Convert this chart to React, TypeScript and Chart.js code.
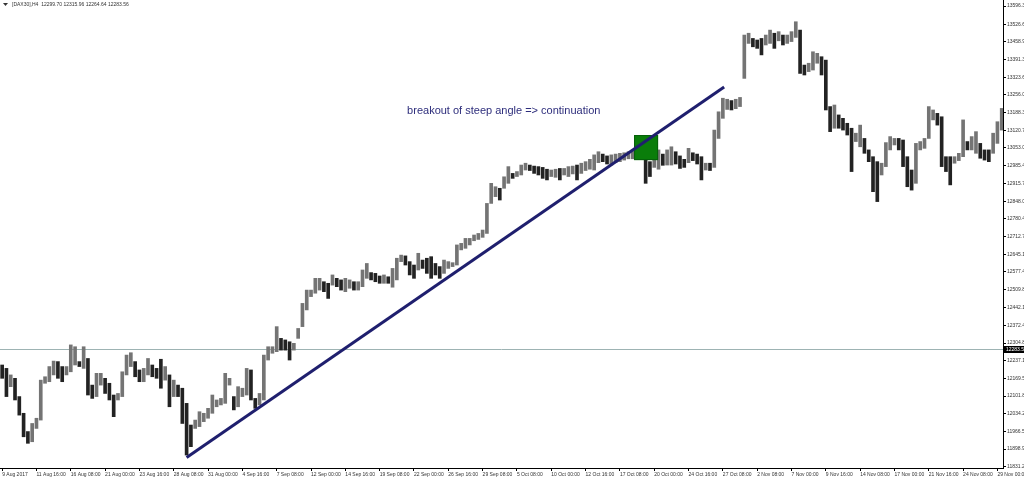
import React, { useEffect, useRef } from 'react';
import { Chart, registerables } from 'chart.js';

Chart.register(...registerables);

// one slot = two H4 candles, a date label every 8 slots
const xTickLabels = [
  '9 Aug 2017', '11 Aug 16:00', '16 Aug 08:00', '21 Aug 00:00', '23 Aug 16:00',
  '28 Aug 08:00', '31 Aug 00:00', '4 Sep 16:00', '7 Sep 08:00', '12 Sep 00:00',
  '14 Sep 16:00', '19 Sep 08:00', '22 Sep 00:00', '26 Sep 16:00', '29 Sep 08:00',
  '5 Oct 08:00', '10 Oct 00:00', '12 Oct 16:00', '17 Oct 08:00', '20 Oct 00:00',
  '24 Oct 16:00', '27 Oct 08:00', '2 Nov 08:00', '7 Nov 00:00', '9 Nov 16:00',
  '14 Nov 08:00', '17 Nov 00:00', '21 Nov 16:00', '24 Nov 08:00', '29 Nov 00:00',
];

const yTickLabels = [
  '13596.3', '13526.6', '13458.9', '13391.3', '13323.6', '13256.0', '13188.3',
  '13120.7', '13053.0', '12985.4', '12915.7', '12848.0', '12780.4', '12712.7',
  '12645.1', '12577.4', '12509.8', '12442.1', '12372.4', '12304.8', '12237.1',
  '12169.5', '12101.8', '12034.2', '11966.5', '11898.9', '11831.2',
];

const barHighs = [
  12221, 12208, 12183, 12170, 12100, 12036, 11966, 11997, 12017, 12163,
  12176, 12215, 12236, 12234, 12215, 12215, 12298, 12291, 12234, 12291,
  12246, 12144, 12189, 12189, 12170, 12151, 12106, 12112, 12195, 12259,
  12268, 12234, 12202, 12208, 12246, 12221, 12208, 12243, 12215, 12183,
  12163, 12144, 12132, 12074, 11991, 12010, 12042, 12036, 12055, 12106,
  12087, 12093, 12189, 12170, 12100, 12138, 12132, 12208, 12202, 12093,
  12112, 12259, 12291, 12291, 12368, 12323, 12317, 12310, 12304, 12361,
  12457, 12508, 12508, 12553, 12553, 12540, 12534, 12566, 12553, 12547,
  12553, 12547, 12540, 12540, 12585, 12610, 12575, 12572, 12562, 12566,
  12559, 12591, 12630, 12642, 12639, 12617, 12604, 12649, 12623, 12630,
  12636, 12610, 12598, 12623, 12617, 12613, 12681, 12687, 12706, 12706,
  12719, 12725, 12738, 12840, 12917, 12904, 12898, 12942, 12981, 12955,
  12962, 12987, 12994, 12987, 12983, 12981, 12978, 12971, 12968, 12971,
  12974, 12974, 12981, 12983, 12987, 12994, 13000, 13009, 13026, 13038,
  13029, 13022, 13026, 13029, 13032, 13034, 13038, 13042, 13064, 13077,
  13038, 13000, 13013, 13045, 13029, 13045, 13057, 13038, 13022, 13009,
  13051, 13034, 13029, 13019, 12994, 12994, 13121, 13191, 13243, 13239,
  13234, 13239, 13246, 13485, 13492, 13472, 13466, 13472, 13485, 13504,
  13492, 13498, 13485, 13485, 13498, 13536, 13504, 13370, 13377, 13421,
  13415, 13402, 13389, 13211, 13217, 13179, 13166, 13147, 13128, 13109,
  13140, 13089, 13045, 13019, 13000, 12994, 13073, 13096, 13089, 13089,
  13083, 13019, 12968, 13070, 13077, 13089, 13211, 13198, 13185, 13172,
  13019, 13019, 13019, 13032, 13160, 13077, 13096, 13115, 13070, 13045,
  13045, 13109, 13153, 13204,
];

const barLows = [
  12170, 12100, 12138, 12087, 12029, 11946, 11921, 11927, 11978, 12010,
  12151, 12157, 12183, 12170, 12157, 12183, 12195, 12221, 12215, 12208,
  12106, 12093, 12100, 12144, 12112, 12087, 12023, 12087, 12100, 12183,
  12215, 12176, 12157, 12157, 12183, 12176, 12170, 12132, 12163, 12061,
  12100, 12100, 11997, 11876, 11908, 11978, 11985, 12004, 12017, 12036,
  12061, 12068, 12074, 12144, 12049, 12061, 12100, 12106, 12087, 12055,
  12068, 12087, 12240, 12266, 12272, 12278, 12278, 12240, 12278, 12323,
  12368, 12432, 12483, 12496, 12508, 12502, 12476, 12527, 12521, 12508,
  12502, 12515, 12508, 12508, 12521, 12553, 12547, 12540, 12534, 12534,
  12534, 12519, 12547, 12617, 12604, 12566, 12553, 12585, 12591, 12572,
  12553, 12566, 12553, 12572, 12591, 12598, 12604, 12662, 12668, 12681,
  12697, 12702, 12710, 12725, 12840, 12866, 12853, 12898, 12917, 12936,
  12943, 12949, 12968, 12966, 12955, 12949, 12936, 12930, 12943, 12940,
  12930, 12949, 12943, 12953, 12930, 12955, 12966, 12971, 12968, 12996,
  13000, 12991, 12987, 12996, 13000, 13006, 13011, 13011, 13013, 13026,
  12917, 12943, 12978, 12971, 12986, 12987, 12987, 12991, 12974, 12978,
  12996, 13004, 12991, 12930, 12968, 12966, 12978, 13089, 13166, 13200,
  13198, 13203, 13211, 13319, 13453, 13440, 13434, 13409, 13447, 13453,
  13434, 13463, 13447, 13453, 13460, 13476, 13338, 13332, 13345, 13351,
  13377, 13332, 13198, 13115, 13128, 13128, 13121, 13102, 12962, 13077,
  13057, 13032, 13000, 12885, 12847, 12949, 12981, 13045, 13064, 13045,
  12981, 12904, 12891, 12917, 13045, 13051, 13089, 13160, 13140, 12981,
  12962, 12911, 12994, 13004, 13019, 13045, 13045, 13032, 13013, 13006,
  13000, 13032, 13070, 13121,
];

// hand-drawn trend line, breakout zone and note (slot index / price)
const trendX = [43.0, 168.3];
const trendY = [11867, 13286];
const zoneX = [147.3, 152.9];
const zoneY = [13006, 13102];
const noteAt = [94.4, 13194];
const noteText = 'breakout of steep angle => continuation';

const levelPrice = 12283.56;
const levelLabel = '12283.5';
const headerText = '[DAX30],H4  12299.70 12315.96 12264.64 12283.56';

const FONT = "'Liberation Sans', Arial, sans-serif";

const overlayPlugin = {
  id: 'mt4Overlay',
  beforeDatasetsDraw(chart: any) {
    const { ctx, chartArea, scales } = chart;
    const py = Math.round(scales.y.getPixelForValue(levelPrice)) + 0.5;
    ctx.save();
    ctx.strokeStyle = '#9db3b3';
    ctx.lineWidth = 1;
    ctx.beginPath();
    ctx.moveTo(chartArea.left, py);
    ctx.lineTo(chartArea.right, py);
    ctx.stroke();
    ctx.restore();
  },
  beforeDatasetDraw(chart: any, args: any) {
    if (args.meta.type !== 'line') return;
    const { ctx, scales } = chart;
    const x0 = scales.x.getPixelForValue(zoneX[0]);
    const x1 = scales.x.getPixelForValue(zoneX[1]);
    const y0 = scales.y.getPixelForValue(zoneY[1]);
    const y1 = scales.y.getPixelForValue(zoneY[0]);
    ctx.save();
    ctx.fillStyle = '#0a7d0a';
    ctx.fillRect(x0, y0, x1 - x0, y1 - y0);
    ctx.strokeStyle = '#06600a';
    ctx.strokeRect(x0 + 0.5, y0 + 0.5, x1 - x0 - 1, y1 - y0 - 1);
    ctx.restore();
  },
  afterDraw(chart: any) {
    const { ctx, chartArea, scales } = chart;
    ctx.save();
    // annotation
    ctx.fillStyle = '#2e2e7c';
    ctx.font = `11px ${FONT}`;
    ctx.textBaseline = 'middle';
    ctx.textAlign = 'left';
    ctx.fillText(noteText, scales.x.getPixelForValue(noteAt[0]), scales.y.getPixelForValue(noteAt[1]));

    // current level marker on the price axis
    const py = Math.round(scales.y.getPixelForValue(levelPrice));
    ctx.fillStyle = '#000';
    ctx.fillRect(chartArea.right + 1, py - 3, 24, 7);
    ctx.fillStyle = '#fff';
    ctx.font = `5px ${FONT}`;
    ctx.fillText(levelLabel, chartArea.right + 3, py + 0.5);

    // symbol header
    ctx.fillStyle = '#333';
    ctx.beginPath();
    ctx.moveTo(3, 3);
    ctx.lineTo(8, 3);
    ctx.lineTo(5.5, 6);
    ctx.closePath();
    ctx.fill();
    ctx.fillText(headerText, 12, 4.5);
    ctx.restore();
  },
};

const DaxChart: React.FC = () => {
  const canvasRef = useRef<HTMLCanvasElement | null>(null);
  const chartRef = useRef<Chart | null>(null);

  useEffect(() => {
    document.body.style.margin = '0';
    if (!canvasRef.current) return;
    if (chartRef.current) chartRef.current.destroy();

    const bars = barHighs.map((h, i) => ({ x: i, y: [barLows[i], h] }));
    const barColors = barHighs.map((h, i) => {
      if (i === 0) return '#222';
      const mid = (h + barLows[i]) / 2;
      const prev = (barHighs[i - 1] + barLows[i - 1]) / 2;
      return mid >= prev ? '#747474' : '#222';
    });

    chartRef.current = new Chart(canvasRef.current, {
      type: 'bar',
      data: {
        datasets: [
          {
            type: 'bar',
            data: bars as any,
            backgroundColor: barColors,
            borderWidth: 0,
            barThickness: 3,
            maxBarThickness: 3,
            order: 2,
          },
          {
            type: 'line',
            data: trendX.map((x, i) => ({ x, y: trendY[i] })) as any,
            borderColor: '#1f1f6e',
            borderWidth: 3,
            pointRadius: 0,
            tension: 0,
            order: 1,
          },
        ],
      },
      options: {
        responsive: false,
        animation: false,
        layout: { padding: 0 },
        plugins: { legend: { display: false }, tooltip: { enabled: false } },
        scales: {
          x: {
            type: 'linear',
            position: 'bottom',
            offset: false,
            min: -0.5,
            max: 233.3,
            grid: { offset: false, drawOnChartArea: false, drawTicks: true, tickLength: 3, color: '#000' },
            border: { display: true, color: '#000' },
            ticks: {
              autoSkip: false,
              maxRotation: 0,
              align: 'start',
              padding: 1,
              color: '#333',
              font: { family: FONT, size: 5 },
              callback: (_v: any, i: number) => xTickLabels[i],
            },
            afterBuildTicks: (scale: any) => {
              scale.ticks = xTickLabels.map((_, k) => ({ value: k * 8 }));
            },
            afterFit: (scale: any) => {
              scale.height = 14;
              scale.paddingLeft = 0;
              scale.paddingRight = 0;
            },
          },
          y: {
            type: 'linear',
            position: 'right',
            min: 11826.4,
            max: 13619.3,
            grid: { drawOnChartArea: false, drawTicks: true, tickLength: 3, color: '#000' },
            border: { display: true, color: '#000' },
            ticks: {
              padding: 1,
              color: '#333',
              font: { family: FONT, size: 5 },
              callback: (_v: any, i: number) => yTickLabels[i],
            },
            afterBuildTicks: (scale: any) => {
              scale.ticks = yTickLabels.map((t) => ({ value: parseFloat(t) }));
            },
            afterFit: (scale: any) => {
              scale.width = 21;
              scale.paddingTop = 0;
              scale.paddingBottom = 0;
            },
          },
        },
      },
      plugins: [overlayPlugin],
    });

    return () => {
      if (chartRef.current) {
        chartRef.current.destroy();
        chartRef.current = null;
      }
    };
  }, []);

  return (
    <div style={{ width: 1024, height: 482, background: '#fff' }}>
      <canvas ref={canvasRef} width={1024} height={482} />
    </div>
  );
};

export default function App() {
  return <DaxChart />;
}
